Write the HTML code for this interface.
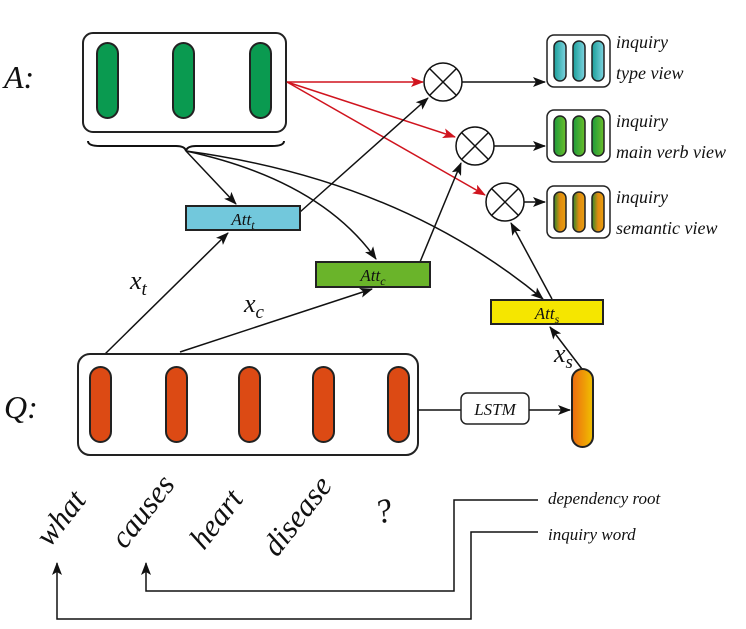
<!DOCTYPE html>
<html><head><meta charset="utf-8"><style>
html,body{margin:0;padding:0;background:#fff;}
text{font-family:"Liberation Serif",serif;font-style:italic;fill:#111;}
</style></head><body>
<svg width="746" height="624" viewBox="0 0 746 624" xmlns="http://www.w3.org/2000/svg">
<defs>
<marker id="ak" markerWidth="13" markerHeight="10" refX="12" refY="5" orient="auto" markerUnits="userSpaceOnUse"><path d="M0,0 L13,5 L0,10 L3,5 z" fill="#111"/></marker>
<marker id="ar" markerWidth="13" markerHeight="10" refX="12" refY="5" orient="auto" markerUnits="userSpaceOnUse"><path d="M0,0 L13,5 L0,10 L3,5 z" fill="#d0141e"/></marker>
<linearGradient id="gb" x1="0" x2="1"><stop offset="0" stop-color="#1a9f9a"/><stop offset="1" stop-color="#7fd3e0"/></linearGradient>
<linearGradient id="gg" x1="0" x2="1"><stop offset="0" stop-color="#1e9a3a"/><stop offset="1" stop-color="#6cbf2a"/></linearGradient>
<linearGradient id="go" x1="0" x2="1"><stop offset="0" stop-color="#2e8a2a"/><stop offset="0.5" stop-color="#e08a10"/><stop offset="1" stop-color="#e8a010"/></linearGradient>
<linearGradient id="gy" x1="0" x2="1"><stop offset="0" stop-color="#ec6a10"/><stop offset="1" stop-color="#f0c000"/></linearGradient>
</defs>

<text x="4" y="88" font-size="32">A:</text>
<rect x="83" y="33" width="203" height="99" rx="10" fill="#fff" stroke="#222" stroke-width="2"/>
<rect x="97" y="43" width="21" height="75" rx="10.5" fill="#0a9a50" stroke="#222" stroke-width="2"/>
<rect x="173" y="43" width="21" height="75" rx="10.5" fill="#0a9a50" stroke="#222" stroke-width="2"/>
<rect x="250" y="43" width="21" height="75" rx="10.5" fill="#0a9a50" stroke="#222" stroke-width="2"/>
<path d="M88,141 Q88,146 100,146 L176,146 Q185,146 186,151 Q187,146 196,146 L272,146 Q284,146 284,141" fill="none" stroke="#111" stroke-width="2"/>

<line x1="287" y1="82" x2="423" y2="82" stroke="#d0141e" stroke-width="1.5" marker-end="url(#ar)"/>
<line x1="287" y1="82" x2="455" y2="137" stroke="#d0141e" stroke-width="1.5" marker-end="url(#ar)"/>
<line x1="287" y1="82" x2="485" y2="195" stroke="#d0141e" stroke-width="1.5" marker-end="url(#ar)"/>

<g stroke="#111" stroke-width="1.5" fill="#fff">
<circle cx="443" cy="82" r="19"/><line x1="430" y1="69" x2="456" y2="95"/><line x1="456" y1="69" x2="430" y2="95"/>
<circle cx="475" cy="146" r="19"/><line x1="462" y1="133" x2="488" y2="159"/><line x1="488" y1="133" x2="462" y2="159"/>
<circle cx="505" cy="202" r="19"/><line x1="492" y1="189" x2="518" y2="215"/><line x1="518" y1="189" x2="492" y2="215"/>
</g>
<line x1="462" y1="82" x2="545" y2="82" stroke="#111" stroke-width="1.5" marker-end="url(#ak)"/>
<line x1="494" y1="146" x2="545" y2="146" stroke="#111" stroke-width="1.5" marker-end="url(#ak)"/>
<line x1="524" y1="202" x2="545" y2="202" stroke="#111" stroke-width="1.5" marker-end="url(#ak)"/>

<g stroke="#222" stroke-width="1.5">
<rect x="547" y="35" width="63" height="52" rx="7" fill="#fff"/>
<rect x="554" y="41" width="12" height="40" rx="6" fill="url(#gb)"/><rect x="573" y="41" width="12" height="40" rx="6" fill="url(#gb)"/><rect x="592" y="41" width="12" height="40" rx="6" fill="url(#gb)"/>
<rect x="547" y="110" width="63" height="52" rx="7" fill="#fff"/>
<rect x="554" y="116" width="12" height="40" rx="6" fill="url(#gg)"/><rect x="573" y="116" width="12" height="40" rx="6" fill="url(#gg)"/><rect x="592" y="116" width="12" height="40" rx="6" fill="url(#gg)"/>
<rect x="547" y="186" width="63" height="52" rx="7" fill="#fff"/>
<rect x="554" y="192" width="12" height="40" rx="6" fill="url(#go)"/><rect x="573" y="192" width="12" height="40" rx="6" fill="url(#go)"/><rect x="592" y="192" width="12" height="40" rx="6" fill="url(#go)"/>
</g>
<g font-size="18">
<text x="616" y="48">inquiry</text><text x="616" y="79">type view</text>
<text x="616" y="127">inquiry</text><text x="616" y="158">main verb view</text>
<text x="616" y="203">inquiry</text><text x="616" y="234">semantic view</text>
</g>

<line x1="186" y1="151" x2="236" y2="204" stroke="#111" stroke-width="1.5" marker-end="url(#ak)"/>
<path d="M186,151 Q320,180 376,259" fill="none" stroke="#111" stroke-width="1.5" marker-end="url(#ak)"/>
<path d="M186,151 Q400,180 543,299" fill="none" stroke="#111" stroke-width="1.5" marker-end="url(#ak)"/>

<line x1="300" y1="212" x2="428" y2="98" stroke="#111" stroke-width="1.5" marker-end="url(#ak)"/>
<line x1="420" y1="262" x2="461" y2="163" stroke="#111" stroke-width="1.5" marker-end="url(#ak)"/>
<line x1="552" y1="299" x2="511" y2="223" stroke="#111" stroke-width="1.5" marker-end="url(#ak)"/>

<rect x="186" y="206" width="114" height="24" fill="#72c8dc" stroke="#222" stroke-width="2"/>
<text x="243" y="225" font-size="17" text-anchor="middle">Att<tspan font-size="12" dy="4">t</tspan></text>
<rect x="316" y="262" width="114" height="25" fill="#6ab42a" stroke="#222" stroke-width="2"/>
<text x="373" y="281" font-size="17" text-anchor="middle">Att<tspan font-size="12" dy="4">c</tspan></text>
<rect x="491" y="300" width="112" height="24" fill="#f5e600" stroke="#222" stroke-width="2"/>
<text x="547" y="319" font-size="17" text-anchor="middle">Att<tspan font-size="12" dy="4">s</tspan></text>

<line x1="105" y1="354" x2="228" y2="233" stroke="#111" stroke-width="1.5" marker-end="url(#ak)"/>
<line x1="180" y1="352" x2="372" y2="289" stroke="#111" stroke-width="1.5" marker-end="url(#ak)"/>
<line x1="582" y1="369" x2="550" y2="327" stroke="#111" stroke-width="1.5" marker-end="url(#ak)"/>
<text x="130" y="289" font-size="26">x<tspan font-size="19" dy="6">t</tspan></text>
<text x="244" y="312" font-size="26">x<tspan font-size="19" dy="6">c</tspan></text>
<text x="554" y="362" font-size="26">x<tspan font-size="19" dy="6">s</tspan></text>

<text x="4" y="418" font-size="32">Q:</text>
<rect x="78" y="354" width="340" height="101" rx="12" fill="#fff" stroke="#222" stroke-width="2"/>
<g fill="#dc4a14" stroke="#222" stroke-width="2">
<rect x="90" y="367" width="21" height="75" rx="10.5"/>
<rect x="166" y="367" width="21" height="75" rx="10.5"/>
<rect x="239" y="367" width="21" height="75" rx="10.5"/>
<rect x="313" y="367" width="21" height="75" rx="10.5"/>
<rect x="388" y="367" width="21" height="75" rx="10.5"/>
</g>
<line x1="418" y1="410" x2="461" y2="410" stroke="#111" stroke-width="1.5"/>
<rect x="461" y="393" width="68" height="31" rx="6" fill="#fff" stroke="#222" stroke-width="1.5"/>
<text x="495" y="415" font-size="17" text-anchor="middle">LSTM</text>
<line x1="529" y1="410" x2="570" y2="410" stroke="#111" stroke-width="1.5" marker-end="url(#ak)"/>
<rect x="572" y="369" width="21" height="78" rx="10.5" fill="url(#gy)" stroke="#222" stroke-width="2"/>

<g font-size="31">
<text transform="translate(50,548) rotate(-52)">what</text>
<text transform="translate(125,550) rotate(-52)">causes</text>
<text transform="translate(204,551) rotate(-52)">heart</text>
<text transform="translate(277,558) rotate(-52)">disease</text>
<text transform="translate(378,524) rotate(-14)" font-size="34">?</text>
</g>
<text x="548" y="504" font-size="17">dependency root</text>
<text x="548" y="540" font-size="17">inquiry word</text>
<polyline points="538,500 454,500 454,591 146,591 146,563" fill="none" stroke="#111" stroke-width="1.5" marker-end="url(#ak)"/>
<polyline points="538,532 471,532 471,619 57,619 57,563" fill="none" stroke="#111" stroke-width="1.5" marker-end="url(#ak)"/>
</svg>
</body></html>
